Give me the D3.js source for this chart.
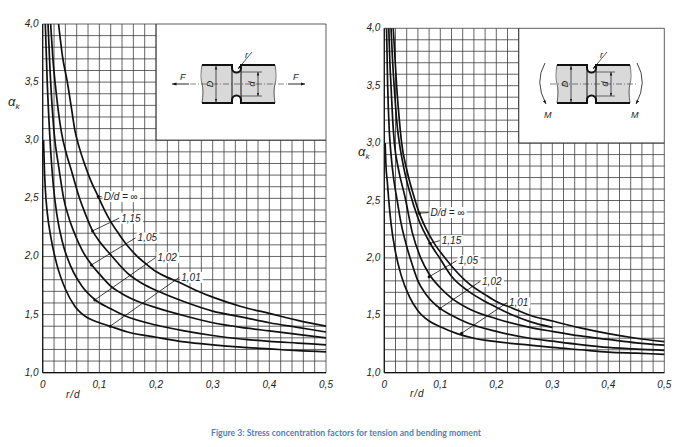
<!DOCTYPE html>
<html>
<head>
<meta charset="utf-8">
<script src="https://cdn.jsdelivr.net/npm/d3@7"></script>
<style>
  body { margin: 0; background: #fff; }
  text { font-family: "Liberation Sans", Arial, sans-serif; }
</style>
</head>
<body>
<div id="fig"></div>
<script>
// axis ticks
var rTicks = [0, 0.1, 0.2, 0.3, 0.4, 0.5];
var rTickLabels = ["0", "0,1", "0,2", "0,3", "0,4", "0,5"];
var aTicks = [1.0, 1.5, 2.0, 2.5, 3.0, 3.5, 4.0];
var aTickLabels = ["1,0", "1,5", "2,0", "2,5", "3,0", "3,5", "4,0"];
var seriesNames = ["D/d = \u221e", "1,15", "1,05", "1,02", "1,01"];

// tension (left chart), [r/d, alpha_k]
var tensionInf = [[0.028,4.0],[0.035,3.72],[0.0435,3.5],[0.05,3.3],[0.057,3.08],[0.065,2.93],[0.075,2.78],[0.085,2.65],[0.098,2.515],[0.11,2.39],[0.12,2.30],[0.135,2.19],[0.15,2.09],[0.165,2.01],[0.184,1.93],[0.2,1.87],[0.22,1.82],[0.24,1.78],[0.27,1.71],[0.3,1.65],[0.35,1.57],[0.4,1.51],[0.45,1.45],[0.5,1.40]];
var tension115 = [[0.014,4.0],[0.018,3.7],[0.024,3.4],[0.033,3.07],[0.042,2.88],[0.05,2.75],[0.065,2.5],[0.075,2.37],[0.088,2.22],[0.1,2.13],[0.119,2.02],[0.135,1.93],[0.151,1.85],[0.175,1.77],[0.204,1.70],[0.25,1.61],[0.3,1.53],[0.35,1.48],[0.4,1.43],[0.45,1.39],[0.5,1.35]];
var tension105 = [[0.0094,4.0],[0.013,3.6],[0.02,3.07],[0.028,2.78],[0.037,2.5],[0.047,2.32],[0.056,2.2],[0.07,2.05],[0.086,1.93],[0.1,1.85],[0.119,1.75],[0.14,1.68],[0.175,1.60],[0.2,1.56],[0.25,1.49],[0.3,1.43],[0.35,1.39],[0.4,1.36],[0.45,1.33],[0.5,1.30]];
var tension102 = [[0.0046,4.0],[0.008,3.5],[0.0124,3.05],[0.019,2.6],[0.025,2.36],[0.035,2.12],[0.05,1.91],[0.07,1.74],[0.092,1.63],[0.12,1.55],[0.145,1.49],[0.2,1.41],[0.25,1.36],[0.3,1.32],[0.35,1.29],[0.4,1.27],[0.45,1.255],[0.5,1.24]];
var tension101 = [[0.0015,3.0],[0.003,2.75],[0.005,2.55],[0.008,2.38],[0.015,2.15],[0.025,1.93],[0.04,1.72],[0.057,1.57],[0.08,1.47],[0.1,1.43],[0.119,1.40],[0.15,1.35],[0.2,1.305],[0.25,1.265],[0.3,1.24],[0.35,1.22],[0.4,1.205],[0.45,1.19],[0.5,1.18]];

// bending (right chart)
var bendingInf = [[0.016,4.0],[0.019,3.75],[0.022,3.5],[0.026,3.25],[0.031,3.0],[0.04,2.77],[0.052,2.55],[0.0625,2.39],[0.075,2.25],[0.09,2.12],[0.105,2.02],[0.12,1.93],[0.15,1.78],[0.18,1.68],[0.2,1.62],[0.23,1.56],[0.26,1.50],[0.3,1.45],[0.35,1.39],[0.4,1.34],[0.45,1.30],[0.5,1.27]];
var bending115 = [[0.012,4.0],[0.015,3.7],[0.019,3.4],[0.023,3.15],[0.027,3.0],[0.035,2.78],[0.045,2.58],[0.06,2.35],[0.0816,2.13],[0.1,1.99],[0.12,1.84],[0.15,1.71],[0.18,1.62],[0.2,1.57],[0.23,1.50],[0.26,1.445],[0.3,1.395]];
var bending105 = [[0.008,4.0],[0.01,3.7],[0.012,3.5],[0.015,3.2],[0.018,3.0],[0.025,2.78],[0.037,2.53],[0.05,2.22],[0.065,2.0],[0.08,1.86],[0.1,1.74],[0.12,1.65],[0.15,1.56],[0.2,1.47],[0.26,1.395],[0.3,1.36],[0.35,1.32],[0.4,1.29],[0.45,1.26],[0.5,1.24]];
var bending102 = [[0.004,4.0],[0.006,3.5],[0.009,3.1],[0.012,2.9],[0.017,2.68],[0.022,2.53],[0.03,2.3],[0.04,2.1],[0.05,1.94],[0.06,1.80],[0.075,1.68],[0.0995,1.56],[0.12,1.50],[0.15,1.43],[0.2,1.36],[0.26,1.30],[0.3,1.275],[0.35,1.245],[0.4,1.22],[0.45,1.205],[0.5,1.195]];
var bending101 = [[0.0015,3.0],[0.003,2.8],[0.0054,2.66],[0.008,2.5],[0.012,2.3],[0.02,2.05],[0.03,1.85],[0.045,1.66],[0.06,1.54],[0.08,1.45],[0.1,1.40],[0.13,1.34],[0.16,1.30],[0.2,1.27],[0.26,1.24],[0.3,1.22],[0.35,1.20],[0.4,1.18],[0.45,1.17],[0.5,1.16]];

// leader lines: [r on curve, alpha on curve, r at label, alpha at label]
var tensionLeaders = [[0.098,2.515,0.104,2.515],[0.088,2.22,0.135,2.33],[0.086,1.927,0.164,2.16],[0.092,1.626,0.199,1.99],[0.119,1.40,0.241,1.82]];
var bendingLeaders = [[0.0625,2.39,0.079,2.395],[0.0816,2.127,0.099,2.15],[0.08,1.836,0.129,1.975],[0.0995,1.56,0.171,1.795],[0.138,1.343,0.219,1.61]];

var svg = d3.select("#fig").append("svg")
  .attr("width", 690)
  .attr("height", 447);

var defs = svg.append("defs");
defs.append("marker")
  .attr("id", "arr")
  .attr("viewBox", "0 0 10 10")
  .attr("refX", 10).attr("refY", 5)
  .attr("markerWidth", 5).attr("markerHeight", 5)
  .attr("orient", "auto-start-reverse")
  .append("path").attr("d", "M0,1.5 L10,5 L0,8.5 Z").attr("fill", "#111");

drawChart({x0: 42.7, x1: 326, y0: 372.7, y1: 24, insetR: 0.2,
  series: [tensionInf, tension115, tension105, tension102, tension101],
  leaders: tensionLeaders, alphaPos: [8, 106], rdPos: [66, 398]});
drawChart({x0: 384.3, x1: 664.3, y0: 372.7, y1: 28.3, insetR: 0.24,
  series: [bendingInf, bending115, bending105, bending102, bending101],
  leaders: bendingLeaders, alphaPos: [358, 156], rdPos: [410, 397]});

drawShaft(0, false);
drawShaft(355, true);

var cap = svg.append("text")
  .attr("x", 346).attr("y", 436)
  .attr("text-anchor", "middle")
  .style("font-family", "Lato, 'Open Sans', sans-serif")
  .style("font-weight", "bold")
  .style("font-size", "10px")
  .style("fill", "#4f81bd")
  .text("Figure 3: Stress concentration factors for tension and bending moment");
var capW = cap.node().getComputedTextLength();
cap.style("font-size", (10 * 270 / capW).toFixed(2) + "px");

function drawChart(cfg) {
  var x = d3.scaleLinear().domain([0, 0.5]).range([cfg.x0, cfg.x1]);
  var y = d3.scaleLinear().domain([1, 4]).range([cfg.y0, cfg.y1]);
  var g = svg.append("g");

  // grid 0.02 x 0.1, cut out where the sketch box sits
  d3.range(0, 0.5001, 0.02).forEach(function (v) {
    var top = v > cfg.insetR + 1e-6 ? 3.0 : 4.0;
    g.append("line")
      .attr("x1", x(v)).attr("x2", x(v))
      .attr("y1", y(1)).attr("y2", y(top))
      .style("stroke", "#333").style("stroke-width", 0.75);
  });
  d3.range(1, 4.0001, 0.1).forEach(function (v) {
    var right = v > 3.0 + 1e-6 ? cfg.insetR : 0.5;
    g.append("line")
      .attr("x1", x(0)).attr("x2", x(right))
      .attr("y1", y(v)).attr("y2", y(v))
      .style("stroke", "#333").style("stroke-width", 0.75);
  });
  // frame around the sketch box
  g.append("path")
    .attr("d", "M" + x(cfg.insetR) + "," + y(3) + "V" + y(4) + "H" + x(0.5) + "V" + y(3) + "Z")
    .style("fill", "none").style("stroke", "#333").style("stroke-width", 0.8);
  // axes
  g.append("line").attr("x1", x(0)).attr("x2", x(0)).attr("y1", y(1)).attr("y2", y(4))
    .style("stroke", "#111").style("stroke-width", 1.2);
  g.append("line").attr("x1", x(0)).attr("x2", x(0.5)).attr("y1", y(1)).attr("y2", y(1))
    .style("stroke", "#111").style("stroke-width", 1.2);

  aTicks.forEach(function (v, i) {
    g.append("text")
      .attr("x", x(0) - 4).attr("y", y(v) + 3)
      .attr("text-anchor", "end")
      .style("font-style", "italic").style("font-size", "10px").style("fill", "#222")
      .text(aTickLabels[i]);
  });
  rTicks.forEach(function (v, i) {
    g.append("text")
      .attr("x", x(v)).attr("y", y(1) + 15)
      .attr("text-anchor", "middle")
      .style("font-style", "italic").style("font-size", "10px").style("fill", "#222")
      .text(rTickLabels[i]);
  });

  var al = g.append("text")
    .attr("x", cfg.alphaPos[0]).attr("y", cfg.alphaPos[1])
    .style("font-style", "italic").style("font-size", "13px").style("fill", "#222");
  al.append("tspan").text("\u03b1");
  al.append("tspan").attr("dy", 3).style("font-size", "8px").text("k");

  g.append("text")
    .attr("x", cfg.rdPos[0]).attr("y", cfg.rdPos[1])
    .style("font-style", "italic").style("font-size", "10px").style("fill", "#222")
    .style("letter-spacing", "1px")
    .text("r/d");

  var line = d3.line()
    .x(function (d) { return x(d[0]); })
    .y(function (d) { return y(d[1]); })
    .curve(d3.curveMonotoneX);

  // labels with white backing, then leaders and curves on top
  cfg.leaders.forEach(function (l, i) {
    var t = g.append("text")
      .attr("x", x(l[2]) + 2).attr("y", y(l[3]) + 3.5)
      .style("font-style", "italic").style("font-size", "10px").style("fill", "#222")
      .text(seriesNames[i]);
    var bb = t.node().getBBox();
    g.insert("rect", function () { return t.node(); })
      .attr("x", bb.x - 1).attr("y", bb.y)
      .attr("width", bb.width + 3).attr("height", bb.height)
      .style("fill", "#fff");
    g.append("line")
      .attr("x1", x(l[0])).attr("y1", y(l[1]))
      .attr("x2", x(l[2])).attr("y2", y(l[3]))
      .style("stroke", "#111").style("stroke-width", 0.8);
  });

  cfg.series.forEach(function (s) {
    g.append("path")
      .datum(s)
      .attr("d", line)
      .style("fill", "none")
      .style("stroke", "#111")
      .style("stroke-width", 1.7);
  });

  cfg.leaders.forEach(function (l) {
    g.append("circle")
      .attr("cx", x(l[0])).attr("cy", y(l[1])).attr("r", 1.5)
      .style("fill", "#111");
  });
}

// little drawing of the grooved shaft
function drawShaft(dx, bending) {
  var g = svg.append("g").attr("transform", "translate(" + dx + ",0)");
  var xl = 202, xg1 = 232, xg2 = 241, xr = 275;
  var top = 65, bot = 103, cy = 84;

  g.append("path")
    .attr("d", "M" + xl + "," + top + "H" + xg1 + "V" + (top + 3) +
      "A4.5,4.5 0 0 0 " + xg2 + "," + (top + 3) + "V" + top + "H" + xr +
      "V" + bot + "H" + xg2 + "V" + (bot - 3) +
      "A4.5,4.5 0 0 0 " + xg1 + "," + (bot - 3) + "V" + bot + "H" + xl + "Z")
    .style("fill", "#d9d9d9").style("stroke", "none");
  // outline
  [["M" + xl + "," + top + "H" + xg1 + "V" + (top + 3) + "A4.5,4.5 0 0 0 " + xg2 + "," + (top + 3) + "V" + top + "H" + xr, 2],
   ["M" + xl + "," + bot + "H" + xg1 + "V" + (bot - 3) + "A4.5,4.5 0 0 1 " + xg2 + "," + (bot - 3) + "V" + bot + "H" + xr, 2],
   ["M" + xg1 + "," + (top + 3) + "V" + (bot - 3) + "M" + xg2 + "," + (top + 3) + "V" + (bot - 3), 1],
   ["M" + xl + "," + top + "Q" + (xl - 2) + "," + (top + 12) + " " + xl + "," + cy + "T" + xl + "," + bot, 0.6],
   ["M" + xr + "," + top + "Q" + (xr + 2) + "," + (top + 12) + " " + xr + "," + cy + "T" + xr + "," + bot, 0.6]
  ].forEach(function (p) {
    g.append("path").attr("d", p[0])
      .style("fill", "none").style("stroke", "#111").style("stroke-width", p[1]);
  });

  // centre line
  g.append("line")
    .attr("x1", bending ? 195 : 190).attr("x2", bending ? 282 : 287)
    .attr("y1", cy).attr("y2", cy)
    .style("stroke", "#333").style("stroke-width", 0.6)
    .style("stroke-dasharray", "6,2,1,2");

  // D and d dimensions
  var dX = 216, sX = bending ? 256 : 258;
  g.append("line").attr("x1", dX).attr("x2", dX).attr("y1", top + 1).attr("y2", bot - 1)
    .attr("marker-start", "url(#arr)").attr("marker-end", "url(#arr)")
    .style("stroke", "#111").style("stroke-width", 0.7);
  g.append("line").attr("x1", sX).attr("x2", sX).attr("y1", top + 7).attr("y2", bot - 7)
    .attr("marker-start", "url(#arr)").attr("marker-end", "url(#arr)")
    .style("stroke", "#111").style("stroke-width", 0.7);
  g.append("path").attr("d", "M" + xg2 + "," + (top + 7) + "H" + (sX + 4) + "M" + xg2 + "," + (bot - 7) + "H" + (sX + 4))
    .style("stroke", "#111").style("stroke-width", 0.6);
  g.append("text").attr("transform", "translate(" + (dX - 3) + "," + cy + ") rotate(-90)")
    .attr("text-anchor", "middle")
    .style("font-style", "italic").style("font-size", "9px").style("fill", "#222").text("D");
  g.append("text").attr("transform", "translate(" + (sX - 3) + "," + cy + ") rotate(-90)")
    .attr("text-anchor", "middle")
    .style("font-style", "italic").style("font-size", "9px").style("fill", "#222").text("d");

  // r pointer
  g.append("text").attr("x", 245).attr("y", 58)
    .style("font-style", "italic").style("font-size", "9px").style("fill", "#222").text("r");
  g.append("line").attr("x1", 252).attr("y1", 52).attr("x2", 238).attr("y2", 69)
    .attr("marker-end", "url(#arr)")
    .style("stroke", "#111").style("stroke-width", 0.7);

  if (!bending) {
    g.append("line").attr("x1", 189).attr("x2", 172).attr("y1", cy).attr("y2", cy)
      .attr("marker-end", "url(#arr)").style("stroke", "#111").style("stroke-width", 0.9);
    g.append("line").attr("x1", 288).attr("x2", 305).attr("y1", cy).attr("y2", cy)
      .attr("marker-end", "url(#arr)").style("stroke", "#111").style("stroke-width", 0.9);
    g.append("text").attr("x", 180).attr("y", 80)
      .style("font-style", "italic").style("font-size", "9px").style("fill", "#222").text("F");
    g.append("text").attr("x", 293).attr("y", 80)
      .style("font-style", "italic").style("font-size", "9px").style("fill", "#222").text("F");
  } else {
    g.append("path").attr("d", "M190,63 Q179,82 191,104")
      .attr("marker-end", "url(#arr)")
      .style("fill", "none").style("stroke", "#111").style("stroke-width", 0.8);
    g.append("path").attr("d", "M282,63 Q293,82 281,104")
      .attr("marker-end", "url(#arr)")
      .style("fill", "none").style("stroke", "#111").style("stroke-width", 0.8);
    g.append("text").attr("x", 189).attr("y", 118)
      .style("font-style", "italic").style("font-size", "9px").style("fill", "#222").text("M");
    g.append("text").attr("x", 276).attr("y", 118)
      .style("font-style", "italic").style("font-size", "9px").style("fill", "#222").text("M");
  }
}
</script>
</body>
</html>
